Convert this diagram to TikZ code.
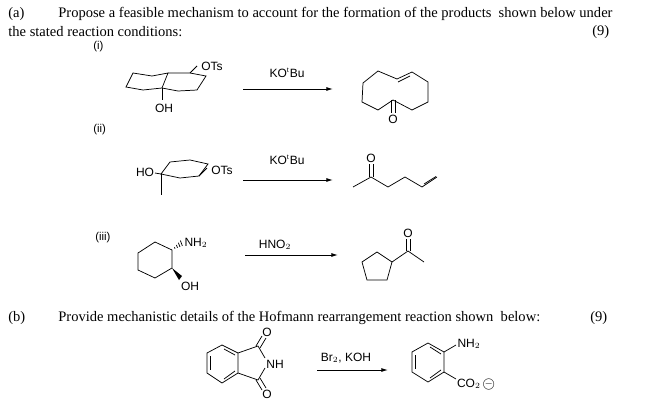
\documentclass[tikz,border=0pt]{standalone}
\usepackage{fontspec}
\setmainfont{Liberation Serif}
\newfontfamily\chemfont{Liberation Sans}
\usetikzlibrary{arrows.meta,calc}
\begin{document}
\begin{tikzpicture}[x=0.75pt, y=-0.75pt, line width=0.55pt,
  txt/.style={anchor=west, inner sep=0pt, font=\fontsize{10.9}{12}\selectfont},
  lab/.style={inner sep=1pt, font=\chemfont\fontsize{9}{10}\selectfont},
  rarrow/.style={-{Latex[length=5pt,width=3pt]}, line width=0.7pt}]
\useasboundingbox (0,0) rectangle (656,418);

% question text
\node[txt] (qa) at (8,14) {(a)};
\node[txt] (qatext) at (58,14) {Propose a feasible mechanism to account for the formation of the products\ \ shown below under};
\node[txt] (qa2) at (8,32) {the stated reaction conditions:};
\node[txt] (qamark) at (592,32) {(9)};
\node[txt, font=\chemfont\fontsize{8.5}{9}\selectfont] (ri) at (93,47) {(i)};
\node[txt, font=\chemfont\fontsize{8.5}{9}\selectfont] (rii) at (93,130) {(ii)};
\node[txt, font=\chemfont\fontsize{8.5}{9}\selectfont] (riii) at (95,238) {(iii)};
\node[txt] (qb) at (8,318) {(b)};
\node[txt] (qbtext) at (58,318) {Provide mechanistic details of the Hofmann rearrangement reaction shown\ \ below:};
\node[txt] (qbmark) at (590,318) {(9)};

% (i) decalin
\draw (126,87) -- (133,73) -- (152,76) -- (168,73) -- (162,88) -- (143,90) -- cycle;
\draw (168,73) -- (190,73) -- (206,76) -- (197,90) -- (178,91) -- (162,88);
\draw (162,88) -- (162,100);
\node[lab] (ohi) at (164,108) {OH};
\draw (190,73) -- (197,66);
\node[lab] (otsi) at (212,66) {OTs};
\coordinate (ia) at (243,89); \coordinate (ib) at (333,89);
\draw[rarrow] (ia) -- (ib);
\node[lab] (ki) at (287,73) {KO$^{\mathrm t}$Bu};
% cyclodecenone
\draw (363,83) -- (378,71) -- (397,79) -- (412,72) -- (428,82) -- (428,102) -- (412,110) -- (393,100) -- (378,110) -- (362,102) -- cycle;
\draw (398,82) -- (410,76);
\draw (391,100) -- (391,113); \draw (395,100) -- (395,113);
\node[lab] (oi) at (393,119) {O};

% (ii)
\node[lab] (hoii) at (145,172) {HO};
\draw (155,173) -- (161,174);
\draw (161,174) -- (170,162) -- (190,160) -- (208,164) -- (199,176) -- (180,178) -- cycle;
\draw (161,174) -- (161,195);
\draw (199,176) -- (207,168);
\node[lab] (otsii) at (222,170) {OTs};
\coordinate (iia) at (243,180); \coordinate (iib) at (333,180);
\draw[rarrow] (iia) -- (iib);
\node[lab] (kii) at (287,160) {KO$^{\mathrm t}$Bu};
\draw (353,187) -- (371,177) -- (388,187) -- (405,177) -- (422,187) -- (437,177);
\draw (424,184) -- (436,176.5);
\draw (369,177) -- (369,164); \draw (373,177) -- (373,164);
\node[lab] (oii) at (371,158) {O};

% (iii)
\draw (138,253) -- (155,242) -- (172,250) -- (172,268) -- (155,278) -- (138,270) -- cycle;
\foreach \t in {0.25,0.45,0.65,0.85}
  \draw ($(172,250)!\t!(183,242)+(-0.6*\t*2,-1.6*\t*2)$) -- ($(172,250)!\t!(183,242)+(0.6*\t*2,1.6*\t*2)$);
\node[lab] (nh2iii) at (196,243) {NH$_2$};
\fill (172,268) -- (182,276) -- (179,280) -- cycle;
\node[lab] (ohiii) at (190,286) {OH};
\coordinate (iiia) at (245,255); \coordinate (iiib) at (338,255);
\draw[rarrow] (iiia) -- (iiib);
\node[lab] (hno) at (275,245) {HNO$_2$};
\draw (362,262) -- (377,252) -- (392,262) -- (387,280) -- (367,280) -- cycle;
\draw (392,262) -- (408,251) -- (424,262);
\draw (406,251) -- (406,239); \draw (410,251) -- (410,239);
\node[lab] (oiii) at (408,233) {O};

% (b) phthalimide
\draw (207,353) -- (222,345) -- (238,353) -- (238,373) -- (222,383) -- (207,373) -- cycle;
\draw (210,356) -- (210,370); \draw (224,349) -- (235,355); \draw (224,379) -- (235,371);
\draw (238,353) -- (258,346) -- (265,358); \draw (265,368) -- (258,380) -- (238,373);
\draw (256,346) -- (262,336); \draw (260,348) -- (266,338);
\draw (256,380) -- (262,390); \draw (260,378) -- (266,388);
\node[lab] (ot) at (267,332) {O};
\node[lab] (ob) at (267,394) {O};
\node[lab] (nh) at (275,364) {NH};
\coordinate (ba) at (317,370); \coordinate (bb) at (388,370);
\draw[rarrow] (ba) -- (bb);
\node[lab] (br) at (346,358) {Br$_2$, KOH};
\draw (412,352) -- (428,343) -- (444,352) -- (444,372) -- (428,382) -- (412,372) -- cycle;
\draw (415,355) -- (415,369); \draw (430,347) -- (441,354); \draw (430,378) -- (441,370);
\draw (444,352) -- (456,345);
\node[lab] (nh2b) at (469,344) {NH$_2$};
\draw (444,372) -- (456,379);
\node[lab] (co2) at (476,384) {CO$_2$\,\textcircled{\raisebox{0.3pt}{\scriptsize$-$}}};
\end{tikzpicture}
\end{document}
